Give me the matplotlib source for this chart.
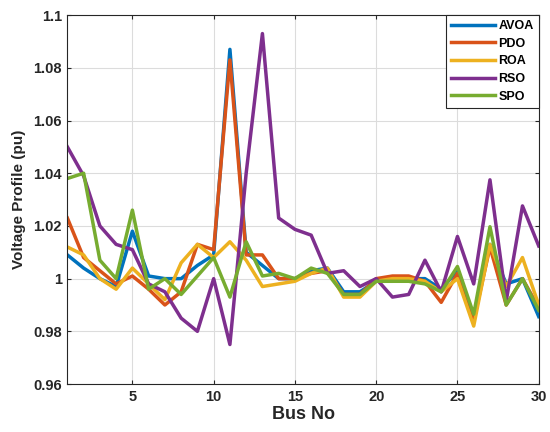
import matplotlib
matplotlib.use('Agg')
import matplotlib.pyplot as plt
import numpy as np

plt.rcParams['font.family'] = ['Liberation Sans', 'DejaVu Sans']
plt.rcParams['font.weight'] = 'bold'

bus = np.arange(1, 31)

avoa = [1.009, 1.004, 1.000, 0.997, 1.018, 1.001, 1.000, 1.000, 1.005, 1.009,
        1.087, 1.010, 1.005, 1.000, 1.000, 1.003, 1.004, 0.995, 0.995, 0.999,
        0.999, 1.000, 1.000, 0.996, 1.003, 0.985, 1.013, 0.998, 1.000, 0.9856]
pdo = [1.023, 1.008, 1.003, 0.998, 1.001, 0.996, 0.990, 0.995, 1.013, 1.011,
       1.083, 1.009, 1.009, 1.000, 1.000, 1.002, 1.003, 0.994, 0.994, 1.000,
       1.001, 1.001, 0.999, 0.991, 1.002, 0.984, 1.012, 0.990, 1.000, 0.989]
roa = [1.012, 1.009, 1.000, 0.996, 1.004, 0.998, 0.992, 1.006, 1.013, 1.008,
       1.014, 1.007, 0.997, 0.998, 0.999, 1.002, 1.004, 0.993, 0.993, 0.999,
       1.000, 1.000, 0.999, 0.995, 1.000, 0.982, 1.013, 0.997, 1.008, 0.990]
rso = [1.050, 1.039, 1.020, 1.013, 1.011, 0.998, 0.995, 0.985, 0.980, 1.000,
       0.975, 1.040, 1.093, 1.023, 1.0187, 1.0165, 1.002, 1.003, 0.997, 1.000,
       0.993, 0.994, 1.007, 0.995, 1.016, 0.998, 1.0375, 0.9915, 1.0276, 1.0124]
spo = [1.038, 1.040, 1.007, 1.000, 1.026, 0.996, 1.000, 0.994, 1.001, 1.008,
       0.993, 1.014, 1.001, 1.002, 1.000, 1.004, 1.002, 0.994, 0.994, 0.999,
       0.999, 0.999, 0.998, 0.995, 1.0046, 0.9865, 1.0197, 0.990, 1.000, 0.988]

series = [('AVOA', avoa, '#0072BD'), ('PDO', pdo, '#D95319'),
          ('ROA', roa, '#EDB120'), ('RSO', rso, '#7E2F8E'),
          ('SPO', spo, '#77AC30')]

fig = plt.figure(figsize=(5.5, 4.32), dpi=100)
ax = fig.add_axes([0.1225, 0.111, 0.857, 0.854])

for name, vals, col in series:
    ax.plot(bus, vals, color=col, lw=2.5, label=name)

ax.set_xlim(1, 30)
ax.set_ylim(0.96, 1.1)
ax.set_xticks([5, 10, 15, 20, 25, 30])
yt = [0.96, 0.98, 1.0, 1.02, 1.04, 1.06, 1.08, 1.1]
ax.set_yticks(yt)
ax.set_yticklabels(['0.96', '0.98', '1', '1.02', '1.04', '1.06', '1.08', '1.1'])
ax.grid(True, color='#dcdcdc', lw=0.8)
ax.tick_params(labelsize=10.5, direction='in', length=3, width=0.8, colors='#262626',
               top=True, right=True, pad=4)
for lab in ax.get_xticklabels() + ax.get_yticklabels():
    lab.set_fontweight('bold')
for s in ax.spines.values():
    s.set_color('#262626')
    s.set_linewidth(0.8)

ax.set_xlabel('Bus No', fontsize=13, fontweight='bold', color='#262626', labelpad=2)
ax.set_ylabel('Voltage Profile (pu)', fontsize=11, fontweight='bold', color='#262626', labelpad=5)

leg = ax.legend(loc='upper right', fontsize=9, handlelength=3.5, borderaxespad=0,
                fancybox=False, framealpha=1, edgecolor='#262626',
                borderpad=0.4, labelspacing=0.45, handletextpad=0.3)
leg.get_frame().set_linewidth(0.8)
for t in leg.get_texts():
    t.set_fontweight('bold')

fig.savefig('out.png', dpi=100)
